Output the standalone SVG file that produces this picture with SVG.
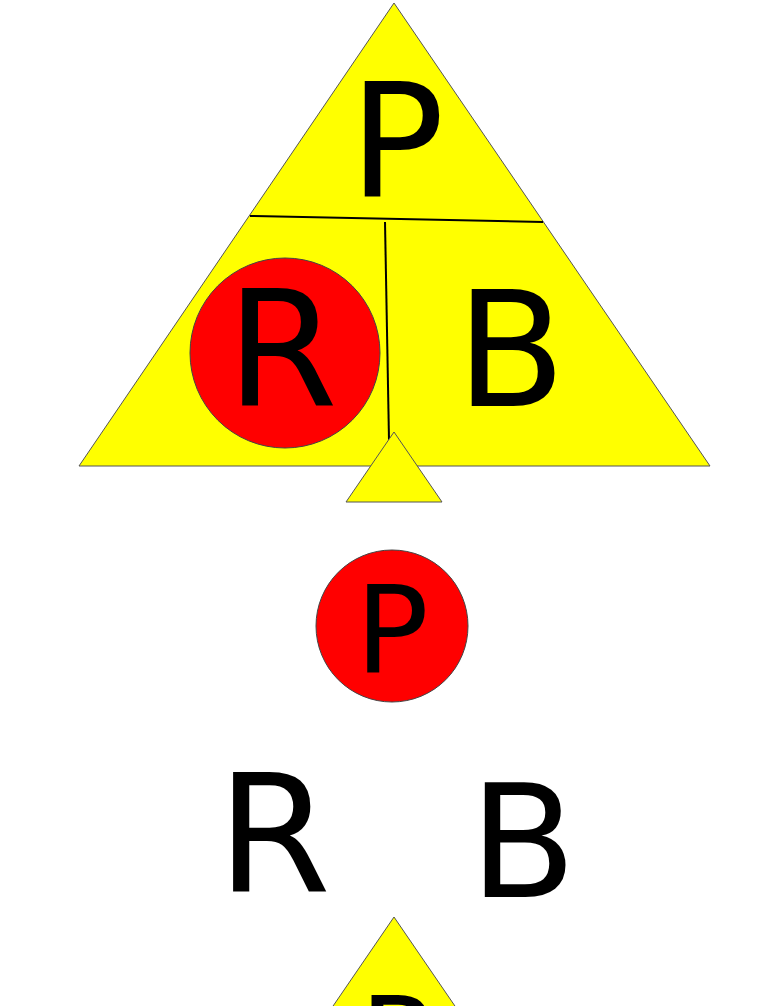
<svg xmlns="http://www.w3.org/2000/svg" width="768" height="1006" viewBox="0 0 768 1006">
<style>
.tri{fill:#ffff00;stroke:#555;stroke-width:1}
.circ{fill:#ff0000;stroke:#444;stroke-width:1}
.t{font-family:"DejaVu Sans",sans-serif;fill:#000;text-anchor:middle}
.ln{stroke:#000;stroke-width:2;fill:none}
</style>
<rect width="768" height="1006" fill="#fff"/>
<g id="main-triangle">
<polygon class="tri" points="394,3 710,466 79,466"/>
<circle class="circ" cx="285" cy="353" r="95"/>
<text class="t" x="397" y="197" font-size="158">P</text>
<text class="t" x="282" y="406" font-size="160">R</text>
<text class="t" x="511" y="406" font-size="160">B</text>
</g>
<g id="connectors">
<line class="ln" x1="250" y1="216" x2="543" y2="222"/>
<line class="ln" x1="385" y1="222" x2="389" y2="440"/>
</g>
<g id="small-triangle">
<polygon class="tri" points="394,432 442,502 346,502"/>
</g>
<g id="p-circle">
<circle class="circ" cx="392" cy="626" r="76"/>
<text class="t" x="392" y="673" font-size="122">P</text>
</g>
<g id="r-label"><text class="t" x="274" y="892" font-size="164">R</text></g>
<g id="b-label"><text class="t" x="523" y="897" font-size="156">B</text></g>
<g id="bottom-triangle">
<polygon class="tri" points="394,917 470,1028 318,1028"/>
<text class="t" x="396" y="1082" font-size="120">P</text>
</g>
</svg>
